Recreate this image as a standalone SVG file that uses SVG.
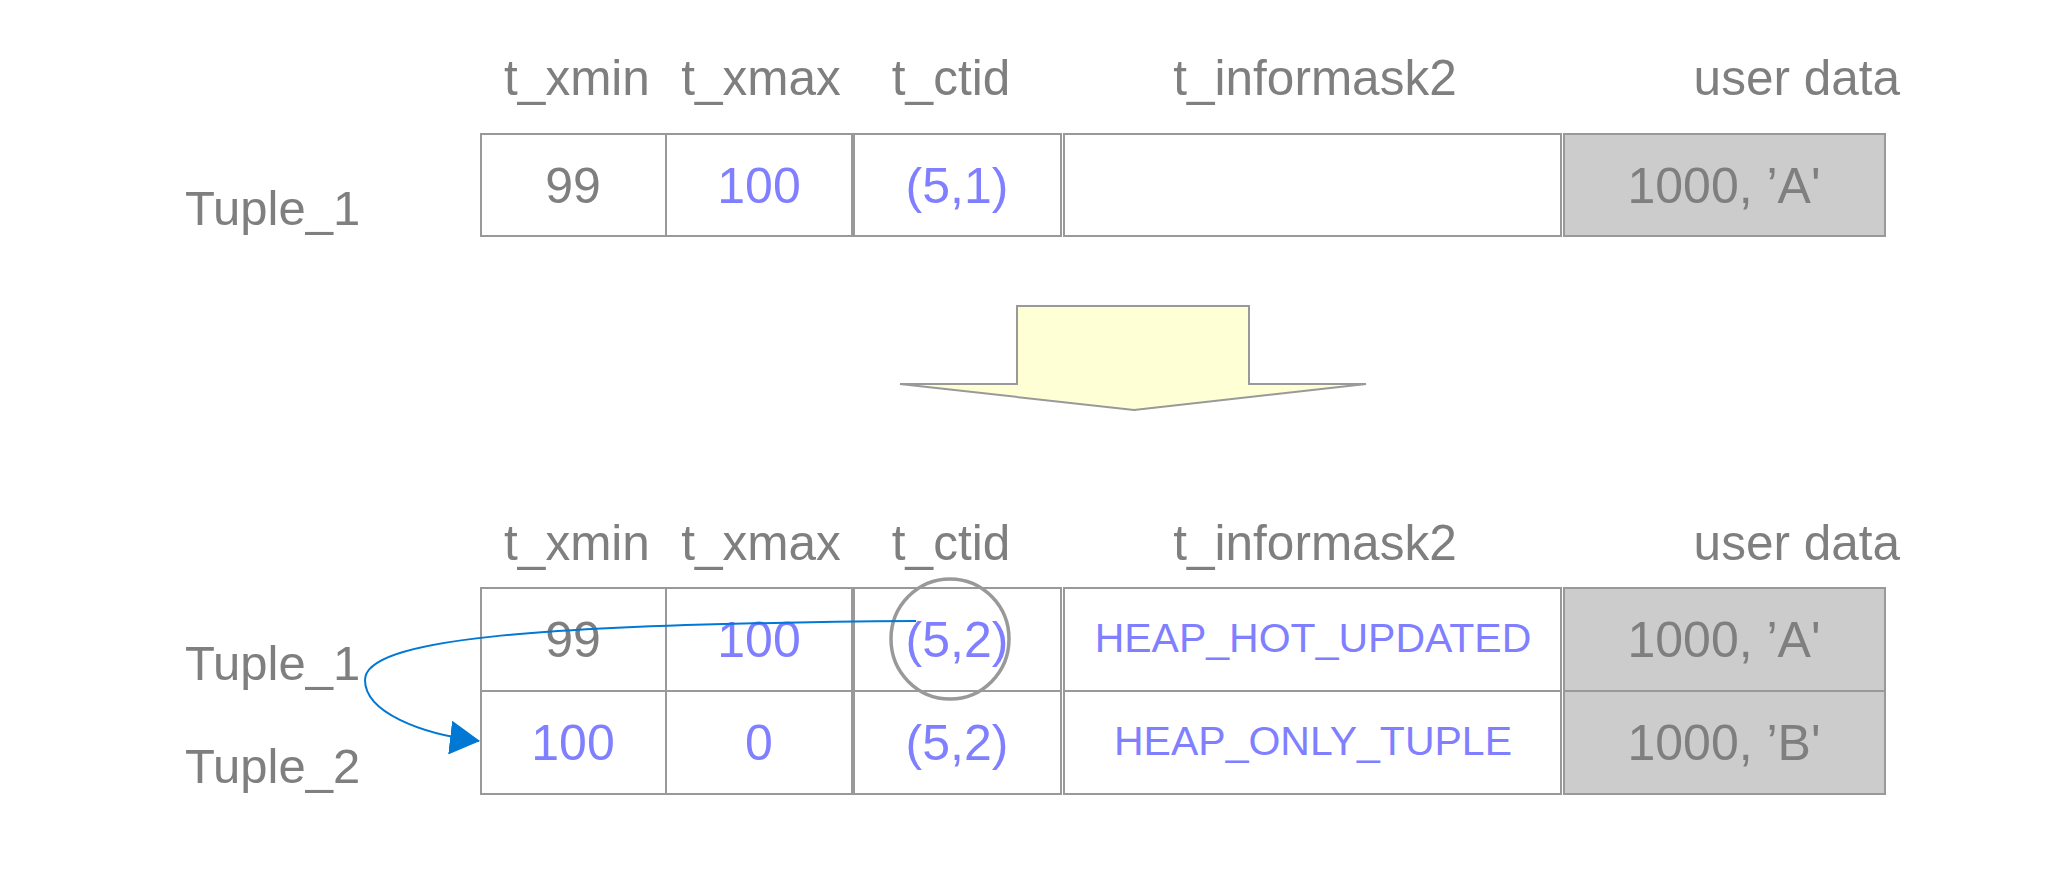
<svg xmlns="http://www.w3.org/2000/svg" width="2068" height="894" viewBox="0 0 2068 894">
<style>
text{font-family:"Liberation Sans",Arial,sans-serif}
.hdr{font-size:49.5px;fill:#7f7f7f;text-anchor:middle}
.lbl{font-size:49px;fill:#7f7f7f}
.g{font-size:50px;fill:#7f7f7f;text-anchor:middle}
.b{font-size:50px;fill:#7f7fff;text-anchor:middle}
.hb{font-size:41px;fill:#7f7fff;text-anchor:middle}
.cell{fill:#ffffff;stroke:#999999;stroke-width:2}
.ud{fill:#cccccc;stroke:#999999;stroke-width:2}
</style>
<defs>
<marker id="ah2" viewBox="0 0 30 34" refX="29" refY="17" markerWidth="30" markerHeight="34" orient="auto" markerUnits="userSpaceOnUse">
<path d="M0,0 L30,17 L0,34 z" fill="#0078d4"/>
</marker>
</defs>
<rect width="2068" height="894" fill="#ffffff"/>

<g id="top-headers">
<text class="hdr" x="577" y="95">t_xmin</text>
<text class="hdr" x="761" y="95">t_xmax</text>
<text class="hdr" x="951" y="95">t_ctid</text>
<text class="hdr" x="1315" y="95">t_informask2</text>
<text class="hdr" x="1900" y="95" style="text-anchor:end">user data</text>
</g>

<g id="top-tuple1">
<text class="lbl" x="185" y="225">Tuple_1</text>
<rect class="cell" x="481" y="134" width="185" height="102"/>
<rect class="cell" x="666" y="134" width="186" height="102"/>
<rect class="cell" x="854" y="134" width="207" height="102"/>
<rect class="cell" x="1064" y="134" width="497" height="102"/>
<rect class="ud" x="1564" y="134" width="321" height="102"/>
<text class="g" x="573" y="203">99</text>
<text class="b" x="759" y="203">100</text>
<text class="b" x="957" y="203">(5,1)</text>
<text class="g" x="1724" y="203">1000, ’A'</text>
</g>

<g id="transition-arrow">
<path d="M1017,306 L1249,306 L1249,384 L1366,384 L1134,410 L900,384 L1017,384 Z" fill="#ffffd6" stroke="#999999" stroke-width="2" stroke-linejoin="miter"/>
</g>

<g id="bottom-headers">
<text class="hdr" x="577" y="560">t_xmin</text>
<text class="hdr" x="761" y="560">t_xmax</text>
<text class="hdr" x="951" y="560">t_ctid</text>
<text class="hdr" x="1315" y="560">t_informask2</text>
<text class="hdr" x="1900" y="560" style="text-anchor:end">user data</text>
</g>

<g id="bottom-tuple1">
<text class="lbl" x="185" y="680">Tuple_1</text>
<rect class="cell" x="481" y="588" width="185" height="103"/>
<rect class="cell" x="666" y="588" width="186" height="103"/>
<rect class="cell" x="854" y="588" width="207" height="103"/>
<rect class="cell" x="1064" y="588" width="497" height="103"/>
<rect class="ud" x="1564" y="588" width="321" height="103"/>
<text class="g" x="573" y="657">99</text>
<text class="b" x="759" y="657">100</text>
<text class="b" x="957" y="657">(5,2)</text>
<text class="hb" x="1313" y="652">HEAP_HOT_UPDATED</text>
<text class="g" x="1724" y="657">1000, ’A'</text>
</g>

<g id="bottom-tuple2">
<text class="lbl" x="185" y="783">Tuple_2</text>
<rect class="cell" x="481" y="691" width="185" height="103"/>
<rect class="cell" x="666" y="691" width="186" height="103"/>
<rect class="cell" x="854" y="691" width="207" height="103"/>
<rect class="cell" x="1064" y="691" width="497" height="103"/>
<rect class="ud" x="1564" y="691" width="321" height="103"/>
<text class="b" x="573" y="760">100</text>
<text class="b" x="759" y="760">0</text>
<text class="b" x="957" y="760">(5,2)</text>
<text class="hb" x="1313" y="755">HEAP_ONLY_TUPLE</text>
<text class="g" x="1724" y="760">1000, ’B'</text>
</g>

<g id="ctid-highlight">
<ellipse cx="950" cy="639" rx="59" ry="60" fill="none" stroke="#999999" stroke-width="3.5"/>
</g>

<g id="connectors">
<path d="M916,621 C520,624 365,640 365,680 C365,712 420,734 479,741" fill="none" stroke="#0078d4" stroke-width="2" marker-end="url(#ah2)"/>
</g>
</svg>
